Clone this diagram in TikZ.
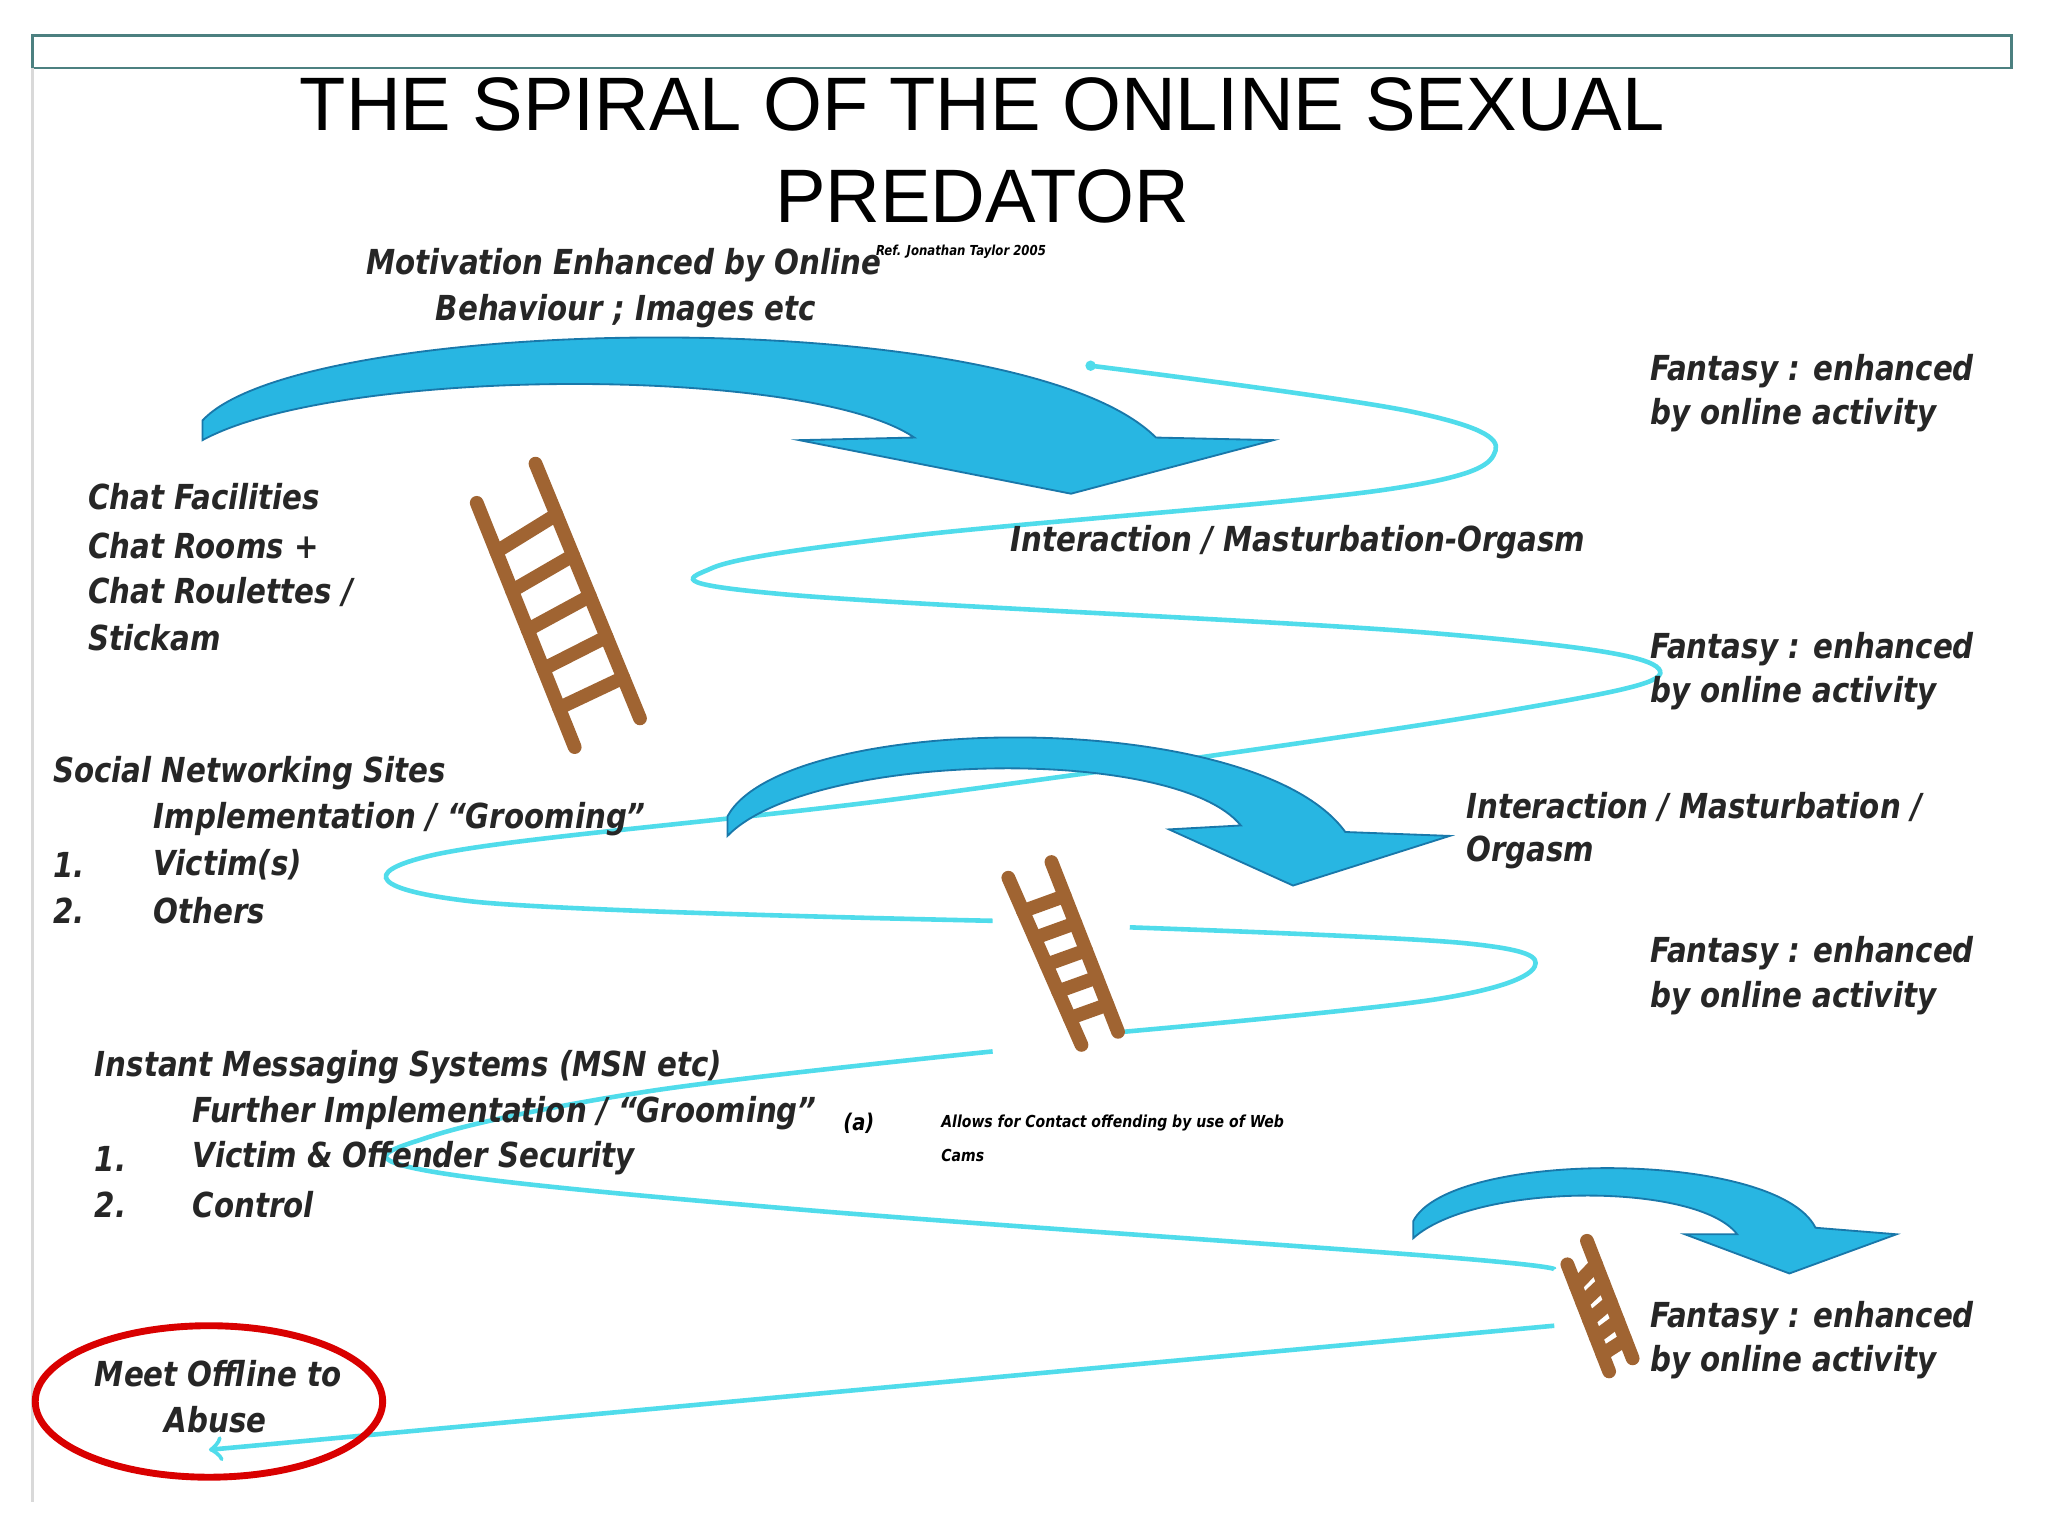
\documentclass[tikz,border=0pt]{standalone}
\usepackage{fontspec}
\setmainfont{Liberation Sans}
\newfontfamily\lbl[FakeStretch=0.85]{DejaVu Sans}
\usetikzlibrary{calc}
\definecolor{arrowblue}{RGB}{40,182,226}
\definecolor{arrowedge}{RGB}{25,120,170}
\definecolor{spiral}{RGB}{80,220,235}
\definecolor{ladderbrown}{RGB}{160,100,50}
\tikzset{
  lab/.style={anchor=west,inner sep=0pt,font=\lbl\bfseries\itshape\fontsize{7.5}{9}\selectfont,text=black!85},
  tiny/.style={anchor=west,inner sep=0pt,font=\lbl\bfseries\itshape\fontsize{3}{4}\selectfont},
  bigarrow/.style={fill=arrowblue,draw=arrowedge,line width=0.4pt},
  spiralline/.style={spiral,line width=1pt},
  rail/.style={ladderbrown,line width=3pt,line cap=round},
}
\begin{document}
\begin{tikzpicture}[x=0.01cm,y=-0.01cm]
\useasboundingbox (0,0) rectangle (1568,1176);
\fill[white] (0,0) rectangle (1568,1176);
\draw[gray!60!teal,line width=0.6pt] (25,27) rectangle (1540,52);
\draw[gray!30,line width=0.6pt] (25,52) -- (25,1150);
% title
\node[font=\fontsize{16.5}{19}\selectfont] (t1) at (752,80) {THE SPIRAL OF THE ONLINE SEXUAL};
\node[font=\fontsize{16.5}{19}\selectfont] (t2) at (752,150) {PREDATOR};
% spiral line
\draw[spiralline] plot[smooth,tension=0.6] coordinates {(835,280) (1080,315) (1145,345) (1060,375) (700,410) (545,435) (600,455) (1100,485) (1270,512) (1150,545) (700,610) (330,655) (360,690) (760,705)};
\fill[spiral] (835,280) circle (4);
\draw[spiralline] plot[smooth,tension=0.6] coordinates {(865,710) (1120,722) (1175,740) (1100,765) (860,790)};
\draw[spiralline] plot[smooth,tension=0.6] coordinates {(760,805) (500,835) (330,870) (320,895) (600,925) (1100,962) (1190,972)};
\draw[spiralline,->] (1190,1015) -- (160,1110);
% arrows
\draw[bigarrow] (155,322) .. controls (230,240) and (780,230) .. (885,335) -- (975,337) -- (820,378) -- (612,337) -- (700,335) .. controls (620,280) and (260,280) .. (155,337) -- cycle;
\draw[bigarrow] (557,625) .. controls (600,545) and (960,540) .. (1030,637) -- (1110,640) -- (990,678) -- (895,635) -- (950,632) .. controls (900,570) and (620,575) .. (557,640) -- cycle;
\draw[bigarrow] (1082,935) .. controls (1110,880) and (1360,880) .. (1390,940) -- (1452,945) -- (1370,975) -- (1290,945) -- (1330,945) .. controls (1300,905) and (1130,905) .. (1082,948) -- cycle;
% ladders
\foreach \ax/\ay/\bx/\by/\cx/\cy/\dx/\dy in {365/385/440/572/410/355/490/550, 772/672/828/800/805/660/856/790, 1200/968/1232/1050/1215/950/1250/1040}{
  \draw[rail] (\ax,\ay) -- (\bx,\by);
  \draw[rail] (\cx,\cy) -- (\dx,\dy);
  \foreach \t in {0.2,0.36,0.52,0.68,0.84}{
    \draw[rail] ($(\ax,\ay)!\t!(\bx,\by)$) -- ($(\cx,\cy)!\t!(\dx,\dy)$);
  }
}
% labels
\node[lab] (m1) at (280,203) {Motivation Enhanced by Online};
\node[lab] (m2) at (333,238) {Behaviour ; Images etc};
\node[tiny] (ref) at (670,193) {Ref. Jonathan Taylor 2005};
\foreach \y [count=\i] in {284,497,730,1009}{
  \node[lab] (f\i a) at (1263,\y) {Fantasy : enhanced};
  \node[lab] (f\i b) at (1263,\y+34) {by online activity};
}
\node[lab] (c1) at (67,380) {Chat Facilities};
\node[lab] (c2) at (67,418) {Chat Rooms +};
\node[lab] (c3) at (67,453) {Chat Roulettes /};
\node[lab] (c4) at (67,488) {Stickam};
\node[lab] (i1) at (773,415) {Interaction / Masturbation-Orgasm};
\node[lab] (s1) at (40,592) {Social Networking Sites};
\node[lab] (s2) at (117,627) {Implementation / “Grooming”};
\node[lab] (s3) at (40,662) {1.};
\node[lab] (s4) at (117,662) {Victim(s)};
\node[lab] (s5) at (40,697) {2.};
\node[lab] (s6) at (117,697) {Others};
\node[lab] (i2) at (1122,618) {Interaction / Masturbation /};
\node[lab] (i3) at (1122,653) {Orgasm};
\node[lab] (n1) at (72,817) {Instant Messaging Systems (MSN etc)};
\node[lab] (n2) at (147,852) {Further Implementation / “Grooming”};
\node[lab] (n3) at (72,887) {1.};
\node[lab] (n4) at (147,887) {Victim \& Offender Security};
\node[lab] (n5) at (72,922) {2.};
\node[lab] (n6) at (147,922) {Control};
\node[tiny,font=\lbl\bfseries\itshape\fontsize{5}{6}\selectfont] (a0) at (645,860) {(a)};
\node[tiny,font=\lbl\bfseries\itshape\fontsize{3.6}{5}\selectfont] (a1) at (720,860) {Allows for Contact offending by use of Web};
\node[tiny,font=\lbl\bfseries\itshape\fontsize{3.6}{5}\selectfont] (a2) at (720,885) {Cams};
\node[lab,anchor=center] (o1) at (167,1052) {Meet Offline to};
\node[lab,anchor=center] (o2) at (165,1087) {Abuse};
\draw[red!85!black,line width=1.5pt] (160,1073) ellipse (133 and 58);
\end{tikzpicture}
\end{document}
